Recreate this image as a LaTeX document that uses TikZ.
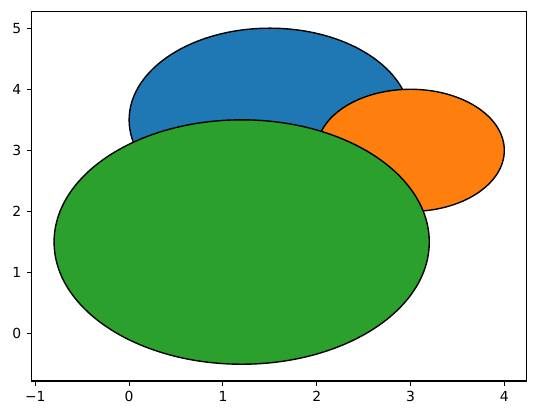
\documentclass[tikz,border=0pt]{standalone}
\usepackage{fontspec}
\setmainfont{DejaVu Sans}
\definecolor{cblue}{HTML}{1F77B4}
\definecolor{corange}{HTML}{FF7F0E}
\definecolor{cgreen}{HTML}{2CA02C}
\tikzset{patch/.style={line width=.79pt,draw=black},ticklabel/.style={inner sep=0pt}}
\begin{document}
\begin{tikzpicture}[x=1.876cm,y=1.222cm,line width=.63pt,font=\fontsize{7.9}{9.5}\selectfont]
\useasboundingbox (-1.3766,-1.3142) rectangle (4.5085,5.4614);
\draw[patch,fill=cblue] (1.5,3.5) ellipse [x radius=1.5,y radius=1.5];
\draw[patch,fill=corange] (3,3) ellipse [x radius=1,y radius=1];
\draw[patch,fill=cgreen] (1.2,1.5) ellipse [x radius=2,y radius=2];
\draw (-1.04,-.775) rectangle (4.24,5.275);
\foreach \x/\t [count=\i] in {-1/−1,0/0,1/1,2/2,3/3,4/4}{\draw (\x,-.775) -- ++(0,-2.76pt) node[ticklabel,below=2.76pt] (xl\i) {\t};}
\foreach \y [count=\i] in {0,...,5}{\draw (-1.04,\y) -- ++(-2.76pt,0) node[ticklabel,left=2.76pt] (yl\i) {\y};}
\end{tikzpicture}
\end{document}
